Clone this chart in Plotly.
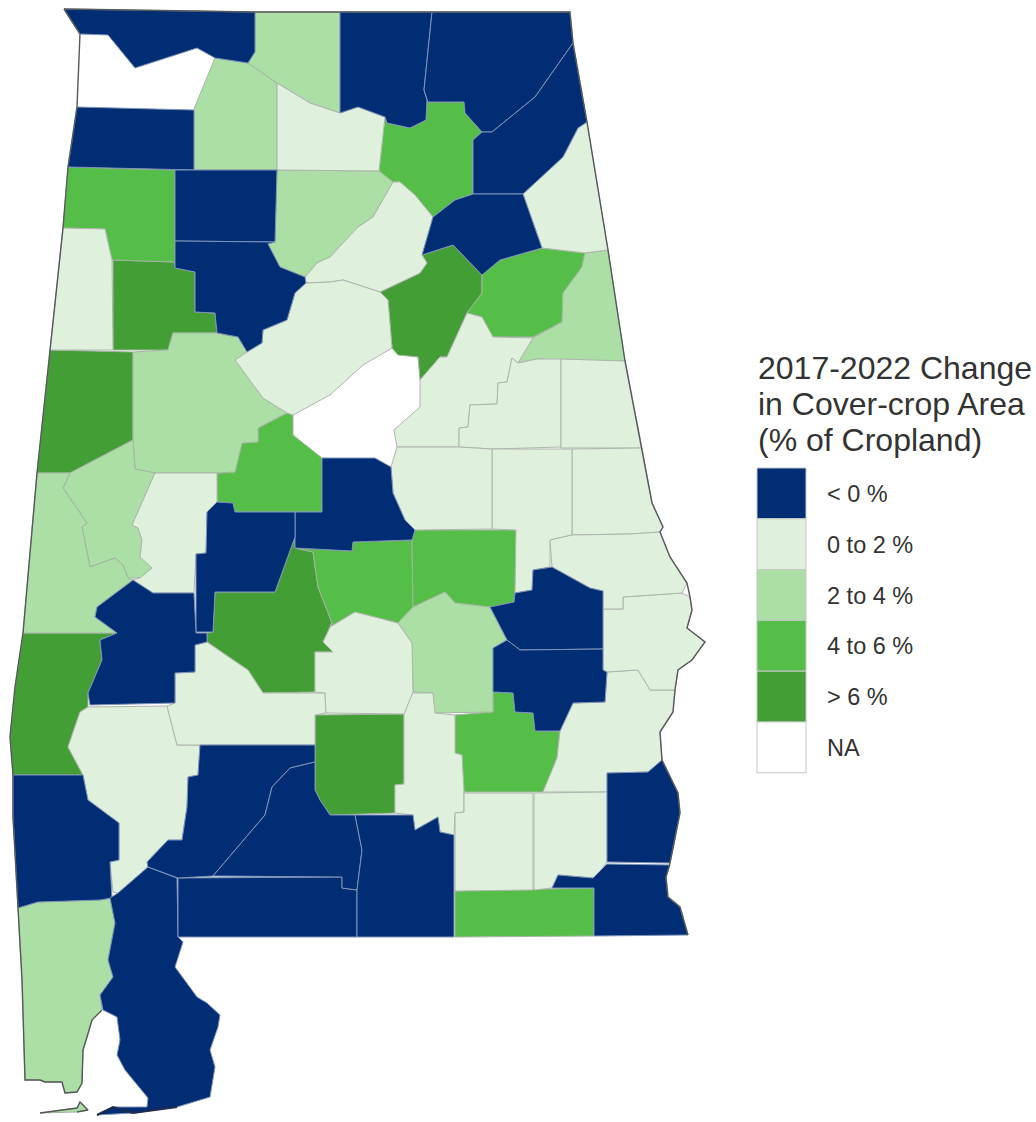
import plotly.graph_objects as go

# legend classes
classes = ["< 0 %", "0 to 2 %", "2 to 4 %", "4 to 6 %", "> 6 %", "NA"]
class_colors = ["#012d74", "#dff1dc", "#abdfa5", "#55be48", "#429e35", "#ffffff"]
class_lines = ["#7f93b8", "#aeb4ae", "#a4b4a2", "#a4b4a2", "#a4b4a2", "#ffffff"]
title_lines = ["2017-2022 Change", "in Cover-crop Area", "(% of Cropland)"]

# county outlines (x, y in picture pixels)
lauderdale = [(64,9),(255,12),(255,52),(248,63),(215,58),(197,48),(135,68),(108,35),(80,34)]
colbert = [(80,34),(108,35),(135,68),(197,48),(215,58),(194,109),(77,107)]
franklin = [(77,107),(194,110),(194,170),(68,167)]
lawrence = [(215,58),(248,63),(277,83),(277,170),(194,170),(194,109)]
limestone = [(255,12),(340,12),(340,113),(310,103),(277,83),(248,63),(255,52)]
morgan = [(277,83),(310,103),(340,113),(358,107),(385,117),(379,171),(277,170)]
madison = [(340,12),(432,12),(424,90),(427,100),(426,120),(410,128),(387,123),(385,117),(358,107),(340,113)]
jackson = [(432,12),(570,12),(573,43),(535,97),(492,132),(482,132),(465,113),(464,102),(428,102),(424,90)]
dekalb = [(573,43),(587,122),(578,128),(563,157),(523,194),(473,194),(473,140),(482,132),(492,132),(535,97)]
marshall = [(428,102),(464,102),(465,113),(482,132),(473,140),(473,194),(455,200),(433,217),(415,195),(400,182),(393,182),(379,171),(385,117),(387,123),(410,128),(426,120),(427,100)]
cherokee = [(587,122),(608,250),(585,253),(542,248),(523,194),(563,157),(578,128)]
etowah = [(473,194),(523,194),(542,248),(500,260),(482,275),(453,245),(422,255),(433,217),(455,200)]
blount = [(393,182),(400,182),(415,195),(433,217),(422,255),(427,263),(420,273),(380,292),(343,280),(330,282),(306,283),(305,277),(317,263),(330,257),(358,227),(373,217)]
cullman = [(277,170),(379,171),(393,182),(373,217),(358,227),(340,252),(330,257),(317,263),(305,277),(280,267),(268,244),(275,242)]
winston = [(175,170),(277,170),(275,242),(175,241)]
walker = [(175,241),(275,242),(268,244),(280,267),(305,277),(306,283),(295,293),(287,320),(263,330),(262,343),(247,352),(238,337),(217,333),(215,313),(195,312),(195,272),(175,268)]
marion = [(68,167),(175,170),(175,262),(112,260),(105,229),(63,228)]
lamar = [(63,228),(105,229),(112,260),(113,350),(50,350)]
fayette = [(113,260),(175,262),(175,268),(195,272),(195,312),(215,313),(217,333),(173,333),(168,350),(113,350)]
pickens = [(50,350),(133,352),(133,440),(70,473),(37,473)]
tuscaloosa = [(133,352),(168,350),(173,333),(217,333),(238,337),(247,352),(235,360),(263,398),(287,413),(258,428),(258,442),(242,443),(235,472),(217,473),(155,473),(135,469),(133,440)]
jefferson = [(235,360),(247,352),(262,343),(263,330),(287,320),(295,293),(306,283),(330,282),(343,280),(380,292),(388,300),(392,348),(363,365),(330,395),(293,415),(287,413),(263,398)]
st_clair = [(380,292),(420,273),(427,263),(422,255),(453,245),(482,275),(482,293),(467,313),(458,333),(447,357),(440,357),(420,380),(418,357),(398,355),(392,348),(388,300)]
calhoun = [(482,275),(500,260),(542,248),(585,253),(582,267),(563,293),(562,322),(533,337),(493,337),(482,317),(467,313),(482,293)]
cleburne = [(608,250),(625,361),(562,360),(537,359),(518,363),(533,338),(562,322),(563,293),(582,267),(585,253)]
talladega = [(420,380),(440,357),(447,357),(458,333),(467,313),(482,317),(493,337),(533,338),(518,363),(512,358),(507,382),(498,383),(497,404),(470,405),(468,427),(459,428),(459,447),(397,447),(394,430),(420,407)]
clay = [(459,428),(468,427),(470,405),(497,404),(498,383),(507,382),(512,358),(518,363),(537,359),(561,359),(561,447),(493,449),(459,447)]
randolph = [(561,359),(625,361),(642,448),(561,448)]
chambers = [(572,449),(642,448),(652,503),(663,527),(660,532),(630,534),(572,535)]
tallapoosa = [(492,449),(572,449),(572,535),(550,540),(550,567),(533,570),(532,590),(515,593),(516,530),(492,529)]
coosa = [(397,447),(459,447),(492,449),(492,529),(415,530),(405,520),(393,493),(391,467)]
shelby = [(293,415),(330,395),(363,365),(392,348),(398,355),(418,357),(420,407),(394,430),(391,467),(375,458),(322,458),(293,435)]
chilton = [(322,458),(375,458),(391,467),(393,493),(405,520),(415,530),(412,540),(353,542),(352,551),(295,548),(295,512),(322,512)]
bibb = [(287,413),(293,415),(293,435),(322,458),(322,512),(235,512),(233,503),(217,502),(217,473),(235,472),(242,443),(258,442),(258,428)]
greene = [(133,440),(135,469),(155,473),(132,525),(138,528),(142,540),(140,557),(152,568),(140,578),(128,578),(123,565),(115,558),(90,567),(82,527),(87,523),(63,488),(70,473)]
sumter = [(37,473),(70,473),(63,488),(87,523),(82,527),(90,567),(115,558),(123,565),(128,578),(133,580),(97,607),(95,617),(117,633),(23,633)]
hale = [(155,473),(217,473),(217,502),(207,512),(206,553),(196,554),(194,593),(153,593),(133,580),(140,578),(152,568),(140,557),(142,540),(138,528),(132,525)]
perry = [(207,512),(217,502),(233,503),(235,512),(295,512),(295,537),(275,592),(215,592),(213,632),(196,632),(196,554),(206,553)]
marengo = [(133,580),(153,593),(194,593),(196,633),(207,633),(207,642),(195,645),(195,672),(175,673),(175,703),(90,705),(88,693),(102,660),(100,640),(117,633),(95,617),(97,607)]
choctaw = [(23,633),(117,633),(100,640),(102,660),(88,693),(88,707),(80,712),(68,747),(83,775),(13,775),(10,737),(15,687)]
clarke = [(88,707),(167,706),(177,745),(200,745),(198,775),(188,777),(187,807),(182,840),(168,840),(147,862),(148,867),(118,893),(113,892),(110,862),(119,860),(119,823),(88,800),(83,775),(68,747),(80,712)]
washington = [(13,775),(83,775),(88,800),(119,823),(119,860),(110,862),(112,898),(100,900),(38,902),(18,908),(13,817)]
mobile = [(18,908),(38,902),(100,900),(110,898),(115,923),(108,960),(113,977),(100,995),(102,1010),(92,1020),(87,1037),(83,1050),(82,1083),(77,1092),(65,1093),(62,1082),(45,1082),(40,1080),(25,1080),(22,980)]
dauphin = [(40,1113),(77,1108),(80,1102),(88,1110),(77,1112)]
baldwin = [(110,898),(118,893),(148,867),(177,878),(178,937),(183,942),(175,967),(197,997),(207,1003),(220,1015),(218,1027),(210,1050),(215,1067),(210,1097),(177,1107),(133,1113),(97,1115),(113,1107),(147,1107),(148,1098),(125,1070),(117,1055),(120,1040),(117,1017),(103,1010),(100,995),(113,977),(108,960),(115,923)]
escambia = [(178,878),(342,877),(342,888),(357,890),(357,937),(178,937)]
monroe = [(200,745),(315,745),(315,762),(290,768),(272,787),(265,815),(213,876),(178,878),(148,867),(147,862),(168,840),(182,840),(187,807),(188,777),(198,775)]
conecuh = [(315,762),(290,768),(272,787),(265,815),(213,876),(342,877),(342,888),(357,890),(362,850),(355,815),(330,815),(320,800),(315,790)]
covington = [(355,815),(413,815),(415,830),(438,817),(440,832),(454,835),(454,937),(357,937),(357,890),(362,850)]
butler = [(315,715),(404,714),(404,784),(395,785),(395,813),(330,815),(320,800),(315,790)]
crenshaw = [(404,714),(412,693),(433,693),(435,713),(455,715),(455,753),(462,755),(464,792),(464,812),(455,813),(454,835),(440,832),(438,817),(415,830),(413,815),(395,813),(395,785),(404,784)]
lowndes = [(167,706),(175,703),(175,673),(195,672),(195,645),(207,642),(233,660),(248,670),(263,693),(325,693),(326,713),(315,715),(315,745),(177,745)]
dallas = [(215,592),(275,592),(295,537),(295,548),(313,552),(318,587),(332,623),(323,642),(333,652),(315,652),(315,692),(263,693),(248,670),(233,660),(207,642),(207,633),(213,632)]
autauga = [(295,548),(352,551),(353,542),(412,540),(413,607),(398,623),(355,612),(330,627),(332,623),(318,587),(313,552)]
elmore = [(412,540),(415,530),(516,530),(515,593),(514,602),(490,607),(455,603),(445,592),(413,607)]
montgomery = [(398,623),(413,607),(445,592),(455,603),(490,607),(507,640),(493,648),(493,712),(433,713),(433,693),(413,692),(412,643)]
autauga_s = [(330,627),(355,612),(398,623),(412,643),(413,692),(404,714),(326,713),(325,693),(315,692),(315,652),(333,652),(323,642),(332,623)]
macon = [(490,607),(514,602),(515,593),(532,590),(533,570),(552,567),(590,588),(603,591),(603,649),(520,650),(507,640)]
bullock = [(493,648),(507,640),(520,650),(603,649),(603,670),(607,672),(605,702),(573,703),(560,731),(535,731),(533,713),(515,712),(513,693),(493,692)]
pike = [(455,715),(493,712),(493,692),(513,693),(515,712),(533,713),(535,731),(560,731),(557,758),(543,792),(464,792),(462,755),(455,753)]
barbour = [(573,703),(605,702),(607,672),(638,670),(650,690),(675,690),(673,712),(660,732),(662,760),(648,772),(607,773),(607,792),(543,792),(557,758),(560,731)]
russell = [(603,609),(623,609),(623,597),(682,593),(690,597),(692,610),(687,628),(705,642),(692,660),(678,670),(675,690),(650,690),(638,670),(607,672),(603,670)]
lee = [(550,540),(572,535),(630,534),(660,532),(670,557),(687,583),(682,593),(623,597),(623,609),(603,609),(603,591),(590,588),(552,567)]
henry = [(607,773),(648,772),(662,760),(678,793),(680,813),(670,863),(607,862)]
houston = [(607,864),(670,865),(666,877),(668,897),(680,907),(688,935),(594,936),(594,888),(552,888),(558,875),(593,878)]
geneva = [(455,891),(594,888),(594,936),(455,937)]
coffee = [(464,793),(533,793),(533,890),(455,891),(455,813),(464,812)]
dale = [(534,793),(607,792),(607,862),(595,878),(558,875),(552,888),(534,890)]

# (outline, class index)
counties = [
    (lauderdale,0),(colbert,5),(franklin,0),(lawrence,2),(limestone,2),(morgan,1),(madison,0),(jackson,0),
    (dekalb,0),(marshall,3),(cherokee,1),(etowah,0),(blount,1),(cullman,2),(winston,0),(walker,0),
    (marion,3),(lamar,1),(fayette,4),(pickens,4),(tuscaloosa,2),(jefferson,1),(st_clair,4),(calhoun,3),
    (cleburne,2),(talladega,1),(clay,1),(randolph,1),(chambers,1),(tallapoosa,1),(coosa,1),(shelby,5),
    (chilton,0),(bibb,3),(greene,2),(sumter,2),(hale,1),(perry,0),(marengo,0),(choctaw,4),(clarke,1),
    (washington,0),(mobile,2),(dauphin,2),(baldwin,0),(escambia,0),(monroe,0),(conecuh,0),(covington,0),
    (butler,4),(crenshaw,1),(lowndes,1),(dallas,4),(autauga,3),(elmore,3),(montgomery,2),(autauga_s,1),
    (macon,0),(bullock,0),(pike,3),(barbour,1),(russell,1),(lee,1),(henry,0),(houston,0),(geneva,3),
    (coffee,1),(dale,1),
]

# dark state border, east and west runs
east_border = [(64,9),(255,12),(570,12),(573,43),(587,122),(608,250),(625,361),(642,448),(652,503),(663,527),(660,532),(670,557),(687,583),(690,597),(692,610),(687,628),(705,642),(692,660),(678,670),(675,690),(673,712),(660,732),(662,760),(678,793),(680,813),(670,863),(666,877),(668,897),(680,907),(688,935)]
west_border = [(64,9),(80,34),(77,107),(68,167),(63,228),(50,350),(37,473),(23,633),(15,687),(10,737),(13,775),(13,817),(18,908),(22,980),(25,1080),(40,1080),(45,1082),(62,1082),(65,1093),(77,1092),(82,1083),(83,1050),(87,1037),(92,1020),(102,1010)]
coast = [(97,1115),(113,1107),(133,1113),(177,1107)]
dauphin_shore = [(40,1113),(77,1108),(80,1102),(88,1110),(77,1112)]

fig = go.Figure()

# white counties first, navy last, so the neighbours' edges sit as in the picture
draw_order = [5, 4, 3, 2, 1, 0]
for want in draw_order:
    for outline, cls in counties:
        if cls != want:
            continue
        fig.add_trace(go.Scatter(
            x=[p[0] for p in outline] + [outline[0][0]],
            y=[p[1] for p in outline] + [outline[0][1]],
            mode="lines", fill="toself", fillcolor=class_colors[cls],
            line=dict(color=class_lines[cls], width=1),
            hoverinfo="skip", showlegend=False))

for run in [east_border, west_border, dauphin_shore]:
    fig.add_trace(go.Scatter(
        x=[p[0] for p in run], y=[p[1] for p in run], mode="lines",
        line=dict(color="#55595a", width=1.4), hoverinfo="skip", showlegend=False))
fig.add_trace(go.Scatter(
    x=[p[0] for p in coast], y=[p[1] for p in coast], mode="lines",
    line=dict(color="#1d2c4c", width=2), hoverinfo="skip", showlegend=False))

# legend
for i, line in enumerate(title_lines):
    fig.add_annotation(x=756, y=368 + i * 36, text=line, showarrow=False, xanchor="left", yanchor="middle",
                       font=dict(size=32, color="#333333"))
for i, label in enumerate(classes):
    top = 468 + i * 50.8
    fig.add_shape(type="rect", x0=757, x1=806, y0=top, y1=top + 50.8, fillcolor=class_colors[i],
                  line=dict(color="#c4c8c4", width=1))
    fig.add_annotation(x=825, y=top + 26, text=label, showarrow=False, xanchor="left", yanchor="middle",
                       font=dict(size=23.5, color="#333333"))

fig.update_xaxes(range=[0, 1036], visible=False, fixedrange=True)
fig.update_yaxes(range=[1122, 0], visible=False, fixedrange=True)
fig.update_layout(width=1036, height=1122, margin=dict(l=0, r=0, t=0, b=0), paper_bgcolor="white",
                  plot_bgcolor="white", font=dict(family="Liberation Sans"))

fig.write_html("out.html", config={"displayModeBar": False}, post_script="document.body.style.margin='0';")
